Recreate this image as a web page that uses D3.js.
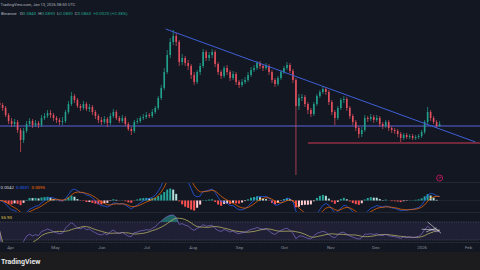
<!DOCTYPE html>
<html>
<head>
<meta charset="utf-8">
<script src="https://cdn.jsdelivr.net/npm/d3@7"></script>
<style>
  html, body { margin: 0; padding: 0; background: #131722; overflow: hidden; }
  svg { display: block; font-family: Roboto, "Noto Sans", sans-serif; }
</style>
</head>
<body>
<svg id="chart" width="480" height="270"></svg>
<script>
// 2-day candles, prices in units of 0.001 USDT
const firstDay = '2025-03-25';
const firstOpen = 107;
const closes = [
  105, 102, 95, 89, 86, 88, 80, 70, 79, 86,
  89, 85, 87, 85, 92, 94, 97, 95, 92, 90,
  88, 89, 98, 106, 114, 110, 104, 102, 106, 101,
  103, 98, 94, 90, 88, 91, 87, 94, 98, 92,
  89, 92, 86, 81, 79, 88, 89, 92, 93, 95,
  94, 98, 102, 112, 122, 138, 155, 168, 174, 168,
  148, 152, 147, 144, 135, 128, 138, 144, 158, 152,
  155, 158, 146, 138, 134, 142, 138, 132, 136, 128,
  125, 128, 130, 135, 140, 142, 147, 144, 142, 144,
  138, 130, 126, 132, 138, 142, 145, 139, 130, 104,
  112, 113, 106, 100, 96, 106, 114, 118, 121, 118,
  108, 98, 92, 102, 110, 111, 102, 94, 88, 82,
  76, 80, 92, 91, 93, 90, 92, 86, 84, 88,
  82, 80, 79, 76, 72, 75, 73, 74, 72, 73,
  74, 78, 88, 98, 92, 88, 84, 86,
];
const highs = [
  110, 107, 104, 97, 92, 91, 90, 82, 82, 89,
  92, 91, 90, 89, 95, 97, 100, 100, 97, 94,
  92, 93, 100, 109, 118, 116, 112, 106, 109, 108,
  106, 105, 100, 96, 93, 94, 93, 97, 101, 100,
  94, 95, 94, 88, 83, 90, 92, 94, 96, 98,
  97, 101, 104, 114, 125, 142, 160, 172, 180, 177,
  170, 156, 154, 150, 146, 138, 140, 147, 161, 160,
  158, 161, 160, 148, 140, 144, 145, 140, 139, 138,
  130, 131, 133, 138, 143, 145, 149, 149, 146, 147,
  146, 140, 132, 134, 140, 144, 148, 147, 141, 132,
  116, 116, 115, 108, 102, 108, 116, 120, 123, 123,
  120, 110, 100, 104, 112, 114, 113, 104, 96, 90,
  84, 83, 95, 94, 96, 95, 95, 94, 88, 90,
  90, 84, 82, 81, 78, 77, 77, 76, 76, 75,
  76, 80, 90, 103, 100, 94, 90, 89,
];
const lows = [
  102, 99, 93, 86, 83, 83, 77, 58, 67, 77,
  84, 82, 83, 82, 83, 90, 92, 92, 89, 87,
  85, 85, 87, 96, 104, 107, 102, 99, 100, 99,
  98, 95, 91, 87, 85, 86, 83, 85, 92, 90,
  87, 87, 84, 79, 75, 77, 86, 87, 90, 91,
  92, 92, 96, 100, 110, 120, 136, 152, 165, 164,
  144, 145, 144, 140, 131, 125, 126, 135, 142, 149,
  149, 152, 143, 135, 131, 132, 135, 129, 130, 125,
  122, 123, 126, 128, 133, 138, 140, 141, 139, 140,
  135, 127, 123, 124, 130, 136, 140, 137, 127, 35,
  100, 109, 103, 96, 93, 94, 104, 112, 116, 115,
  105, 95, 85, 90, 100, 107, 99, 91, 85, 79,
  72, 73, 78, 88, 89, 87, 88, 83, 81, 82,
  79, 77, 76, 73, 68, 70, 71, 71, 70, 70,
  71, 72, 76, 86, 89, 86, 82, 83,
];

// drawings on the chart
const trendline = [['2025-07-14', 181], ['2026-02-06', 68]];
const supportPrice = 84;
const floorLine = [['2025-10-17', 67], ['2026-02-10', 67]];
const alertMark = ['2026-01-13', 32];
const rsiDrawings = [
  [['2026-01-05', 70], ['2026-01-14', 45]],
  [['2026-01-01', 54], ['2026-01-13', 52]],
  [['2026-01-04', 48], ['2026-01-11', 57]],
];

const monthTicks = ['2025-04-01', '2025-05-01', '2025-06-01', '2025-07-01', '2025-08-01',
  '2025-09-01', '2025-10-01', '2025-11-01', '2025-12-01', '2026-01-01', '2026-02-01'];
const monthLabels = ['Apr', 'May', 'Jun', 'Jul', 'Aug', 'Sep', 'Oct', 'Nov', 'Dec', '2026', 'Feb'];

const legendTop = 'TradingView.com, Jan 13, 2026 08:50 UTC';
const ohlcLegend = [['O', '0.0840'], ['H', '0.0890'], ['L', '0.0830'], ['C', '0.0860']];
const changeLegend = '+0.0020 (+2.38%)';
const macdLegend = ['0.0042', '0.0031', '0.0095'];
const rsiLegend = '55.90';

const W = 480;
const H = 270;
const up = '#22a08c';
const down = '#e4505f';

const day0 = new Date(firstDay);
const data = closes.map((c, i) => ({
  date: d3.utcDay.offset(day0, 2 * i),
  open: i ? closes[i - 1] : firstOpen,
  high: highs[i],
  low: lows[i],
  close: c,
}));

const svg = d3.select('#chart');
const x = d3.scaleUtc()
  .domain([new Date(Date.UTC(2025, 2, 25, 6)), new Date(Date.UTC(2026, 1, 9))])
  .range([0, W]);
const y = d3.scaleLinear().domain([30, 190]).range([180, 20]);

const defs = svg.append('defs');
function clip(id, y0, y1) {
  defs.append('clipPath').attr('id', id)
    .append('rect').attr('x', 0).attr('y', y0).attr('width', W).attr('height', y1 - y0);
  return `url(#${id})`;
}

svg.append('rect').attr('width', W).attr('height', H).attr('fill', '#131722');

// pane separators
svg.selectAll('line.sep')
  .data([182, 212, 242])
  .join('line')
  .attr('x1', 0).attr('x2', W)
  .attr('y1', d => d + 0.5).attr('y2', d => d + 0.5)
  .attr('stroke', '#232733');

// ---------- price pane ----------
const price = svg.append('g').attr('clip-path', clip('clip-price', 0, 182));

price.append('line')
  .attr('x1', 0).attr('x2', W)
  .attr('y1', y(supportPrice)).attr('y2', y(supportPrice))
  .attr('stroke', '#5c63d6').attr('stroke-width', 1);

price.append('line')
  .attr('x1', x(new Date(floorLine[0][0]))).attr('x2', x(new Date(floorLine[1][0])))
  .attr('y1', y(floorLine[0][1])).attr('y2', y(floorLine[1][1]))
  .attr('stroke', '#d23a55').attr('stroke-width', 1);

const candle = price.selectAll('g.candle')
  .data(data)
  .join('g')
  .attr('class', 'candle')
  .attr('transform', d => `translate(${x(d.date)},0)`);

candle.append('line')
  .attr('y1', d => y(d.high))
  .attr('y2', d => y(d.low))
  .attr('stroke', d => (d.close >= d.open ? up : down))
  .attr('stroke-width', 0.7);

candle.append('rect')
  .attr('x', -0.8)
  .attr('width', 1.6)
  .attr('y', d => y(Math.max(d.open, d.close)))
  .attr('height', d => Math.max(1, Math.abs(y(d.open) - y(d.close))))
  .attr('fill', d => (d.close >= d.open ? up : down));

price.append('line')
  .attr('x1', x(new Date(trendline[0][0]))).attr('y1', y(trendline[0][1]))
  .attr('x2', x(new Date(trendline[1][0]))).attr('y2', y(trendline[1][1]))
  .attr('stroke', '#3f5fd8').attr('stroke-width', 1);

// legend
svg.append('text')
  .attr('x', 0.5).attr('y', 6)
  .attr('font-size', 4)
  .attr('fill', '#b2b5be')
  .text(legendTop);

const leg = svg.append('text').attr('x', 1).attr('y', 14.5).attr('font-size', 4.4);
leg.append('tspan').attr('fill', '#b2b5be').text('Binance ');
ohlcLegend.forEach(([k, v]) => {
  leg.append('tspan').attr('fill', '#b2b5be').attr('dx', 2).text(k);
  leg.append('tspan').attr('fill', up).text(v);
});
leg.append('tspan').attr('fill', up).attr('dx', 2).text(changeLegend);

// alert marker
const am = svg.append('g')
  .attr('transform', `translate(${x(new Date(alertMark[0]))},${y(alertMark[1])})`);
am.append('circle').attr('r', 3).attr('fill', 'none').attr('stroke', '#c2185b').attr('stroke-width', 0.9);
am.append('path').attr('d', 'M-1,1L1,-1M-0.2,-1H1V0.2')
  .attr('fill', 'none').attr('stroke', '#c2185b').attr('stroke-width', 0.7);

// ---------- MACD pane ----------
function ema(arr, n) {
  const k = 2 / (n + 1);
  let prev = arr[0];
  return arr.map((v, i) => (prev = i ? v * k + prev * (1 - k) : v));
}
// periods halved because each bar spans two days (12, 26, 9 daily)
const fast = ema(closes, 6);
const slow = ema(closes, 13);
const macd = fast.map((v, i) => v - slow[i]);
const signal = ema(macd, 4.5);
const hist = macd.map((v, i) => v - signal[i]);

const mMax = d3.max(hist);
const yM = d3.scaleLinear().domain([0, mMax]).range([200.5, 188.5]);

const mp = svg.append('g').attr('clip-path', clip('clip-macd', 183, 212));
mp.append('line').attr('x1', 0).attr('x2', W)
  .attr('y1', yM(0)).attr('y2', yM(0)).attr('stroke', '#2a2e39').attr('stroke-width', 0.6);

mp.selectAll('rect.h')
  .data(hist)
  .join('rect')
  .attr('class', 'h')
  .attr('x', (d, i) => x(data[i].date) - 1)
  .attr('width', 2)
  .attr('y', d => Math.min(yM(d), yM(0)))
  .attr('height', d => Math.abs(yM(d) - yM(0)))
  .attr('fill', (d, i) => {
    const p = i ? hist[i - 1] : d;
    if (d >= 0) return p < d ? '#26a69a' : '#b2dfdb';
    return p < d ? '#ffcdd2' : '#ff5252';
  });

const mline = arr => d3.line().x((d, i) => x(data[i].date)).y(d => yM(d))(arr);
mp.append('path').attr('d', mline(macd)).attr('fill', 'none').attr('stroke', '#2962ff').attr('stroke-width', 0.7);
mp.append('path').attr('d', mline(signal)).attr('fill', 'none').attr('stroke', '#ff6d00').attr('stroke-width', 0.7);

const ml = svg.append('text').attr('x', 0.5).attr('y', 188.5).attr('font-size', 4.4);
ml.append('tspan').attr('fill', '#d1d4dc').text(macdLegend[0]);
ml.append('tspan').attr('dx', 2).attr('fill', '#2962ff').text(macdLegend[1]);
ml.append('tspan').attr('dx', 2).attr('fill', '#ff6d00').text(macdLegend[2]);

// ---------- RSI pane ----------
const period = 14;
let ag = 0;
let al = 0;
const rsi = closes.map((c, i) => {
  if (i === 0) return 50;
  const ch = c - closes[i - 1];
  const g = Math.max(ch, 0);
  const l = Math.max(-ch, 0);
  ag = (ag * (period - 1) + g) / period;
  al = (al * (period - 1) + l) / period;
  return al === 0 ? 100 : 100 - 100 / (1 + ag / al);
});
const rsiMa = rsi.map((v, i) => d3.mean(rsi.slice(Math.max(0, i - 6), i + 1)));

const yR = d3.scaleLinear().domain([30, 70]).range([240, 222]);
const rp = svg.append('g').attr('clip-path', clip('clip-rsi', 213, 242));

rp.append('rect').attr('x', 0).attr('width', W)
  .attr('y', yR(70)).attr('height', yR(30) - yR(70))
  .attr('fill', 'rgba(126,87,194,0.12)');
rp.selectAll('line.lvl')
  .data([70, 30])
  .join('line')
  .attr('x1', 0).attr('x2', W)
  .attr('y1', d => yR(d)).attr('y2', d => yR(d))
  .attr('stroke', '#5d606b').attr('stroke-width', 0.6).attr('stroke-dasharray', '1.2,1.2');

const ob = rp.append('g').attr('clip-path', clip('clip-ob', 200, yR(70)));
ob.append('path')
  .attr('d', d3.area().x((d, i) => x(data[i].date)).y0(yR(70)).y1(d => yR(d))(rsi))
  .attr('fill', 'rgba(38,166,154,0.55)');

const rline = arr => d3.line().x((d, i) => x(data[i].date)).y(d => yR(d))(arr);
rp.append('path').attr('d', rline(rsiMa)).attr('fill', 'none').attr('stroke', '#c9c46a').attr('stroke-width', 0.7);
rp.append('path').attr('d', rline(rsi)).attr('fill', 'none').attr('stroke', '#8f7be0').attr('stroke-width', 0.6);

rp.selectAll('line.draw')
  .data(rsiDrawings)
  .join('line')
  .attr('x1', d => x(new Date(d[0][0]))).attr('y1', d => yR(d[0][1]))
  .attr('x2', d => x(new Date(d[1][0]))).attr('y2', d => yR(d[1][1]))
  .attr('stroke', '#e8e8e8').attr('stroke-width', 0.6);

svg.append('text').attr('x', 1).attr('y', 218.5).attr('font-size', 4.4)
  .attr('fill', '#e0c84a').text(rsiLegend);

// ---------- time axis ----------
const axis = d3.axisBottom(x)
  .tickValues(monthTicks.map(d => new Date(d)))
  .tickFormat((d, i) => monthLabels[i])
  .tickSize(0);
const axisG = svg.append('g').attr('transform', 'translate(0,249)').call(axis);
axisG.select('.domain').remove();
axisG.selectAll('text')
  .attr('y', 0).attr('dy', 0)
  .attr('font-size', 4.4)
  .attr('font-family', 'Roboto, "Noto Sans", sans-serif')
  .attr('fill', '#8a8d96');

// ---------- footer ----------
svg.append('rect').attr('y', 252).attr('width', W).attr('height', H - 252).attr('fill', '#1c1c1e');
svg.append('text')
  .attr('x', 1).attr('y', 264)
  .attr('font-size', 7)
  .attr('font-weight', 'bold')
  .attr('fill', '#e6e6e6')
  .text('TradingView');
</script>
</body>
</html>
